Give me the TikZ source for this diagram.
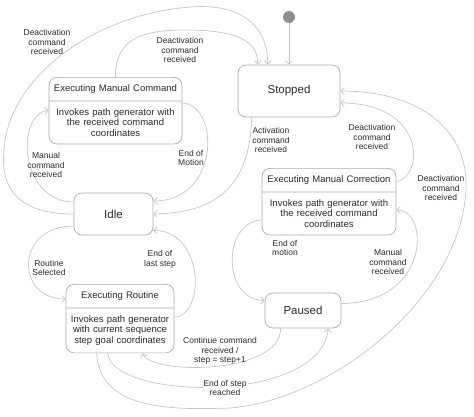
\documentclass[tikz,border=0pt]{standalone}
\usepackage{fontspec}
\setmainfont{Liberation Sans}
\usetikzlibrary{arrows.meta,shapes.multipart}
\definecolor{linegray}{HTML}{C4C4C4}
\definecolor{boxgray}{HTML}{ABABAB}
\definecolor{txtgray}{HTML}{2A2A2A}
\definecolor{dotgray}{HTML}{8E8E8E}
\tikzset{
  state/.style={draw=boxgray, line width=0.7pt, rounded corners=8, text=txtgray,
    font=\fontsize{11.5}{13}\selectfont},
  activity/.style={rectangle split, rectangle split parts=2, draw=boxgray,
    line width=0.7pt, rounded corners=8, text=txtgray, align=center,
    font=\fontsize{9.5}{10.7}\selectfont, inner xsep=4, inner ysep=7, anchor=north},
  trans/.style={draw=linegray, line width=0.7pt, -{Straight Barb[length=3.5pt,width=7pt]}},
  lbl/.style={text=txtgray, font=\fontsize{8.5}{9.6}\selectfont, align=center, inner sep=1pt},
}
\begin{document}
\begin{tikzpicture}[x=1pt,y=-1pt]
\useasboundingbox (0,0) rectangle (474,416);
% states
\node[circle, fill=dotgray, minimum size=12, inner sep=0] (init) at (289,17) {};
\node[state, minimum width=102, minimum height=52] (stopped) at (289,91) {Stopped};
\node[state, minimum width=79, minimum height=42] (idle) at (113.5,214) {Idle};
\node[state, minimum width=76, minimum height=35] (paused) at (303,310.5) {Paused};
\node[activity, text width=125] (emc) at (115.5,77) {Executing Manual Command
  \nodepart{two} Invokes path generator with\\ the received command\\ coordinates};
\node[activity, text width=126] (corr) at (329,168) {Executing Manual Correction
  \nodepart{two} Invokes path generator with\\ the received command\\ coordinates};
\node[activity, text width=100] (routine) at (120,284) {Executing Routine
  \nodepart{two} Invokes path generator\\ with current sequence\\ step goal coordinates};
% transitions
\draw[trans] (init) -- (stopped);
\draw[trans] (idle.west) .. controls (20,214) and (0,190) .. (4,150)
  .. controls (8,80) and (90,15) .. (190,7)
  .. controls (240,3) and (268,25) .. ([xshift=30]stopped.north west)
  node[lbl] (l-deact-idle) at (47,42) {Deactivation\\command\\received};
\draw[trans] (emc.north) .. controls (115,40) and (140,30) .. (185,30)
  .. controls (235,30) and (258,40) .. ([xshift=20]stopped.north west)
  node[lbl] (l-deact-emc) at (180,50) {Deactivation\\command\\received};
\draw[trans] ([xshift=14]stopped.south west) .. controls (250,200) and (200,213) .. (idle.east)
  node[lbl] (l-act) at (271,140) {Activation\\command\\received};
\draw[trans] ([yshift=-26]emc.north east) .. controls (220,105) and (220,201) .. ([yshift=13]idle.east)
  node[lbl] (l-endmot-emc) at (191,158) {End of\\Motion};
\draw[trans] ([yshift=12]idle.west) .. controls (20,202) and (15,115) .. ([yshift=-33]emc.north west)
  node[lbl] (l-man-emc) at (46,165) {Manual\\command\\received};
\draw[trans] ([yshift=-12]idle.west) .. controls (15,226) and (15,299) .. ([yshift=-15]routine.north west)
  node[lbl] (l-routine) at (49,268) {Routine\\Selected};
\draw[trans] ([yshift=-33]routine.north east) .. controls (205,317) and (205,231) .. ([yshift=5]idle.south east)
  node[lbl] (l-last) at (160,259) {End of\\last step};
\draw[trans] ([yshift=-14]corr.north east) .. controls (425,175) and (425,103) .. ([yshift=-12]stopped.east)
  node[lbl] (l-deact-corr) at (372,137) {Deactivation\\command\\received};
\draw[trans] ([xshift=31]routine.south west) .. controls (100,410) and (170,410) .. (230,408)
  .. controls (330,400) and (460,300) .. (466,190)
  .. controls (469,130) and (420,91) .. (stopped.east)
  node[lbl] (l-deact-routine) at (441,188) {Deactivation\\command\\received};
\draw[trans] ([xshift=42]routine.south west) .. controls (112,400) and (320,405) .. ([xshift=-13]paused.south east)
  node[lbl, fill=white] (l-endstep) at (225,388) {End of step\\reached};
\draw[trans] ([xshift=16]paused.south west) .. controls (281,375) and (150,375) .. ([xshift=77]routine.south west)
  node[lbl] (l-continue) at (220,351) {Continue command\\received /\\step = step+1};
\draw[trans] ([yshift=-52]corr.north west) .. controls (222,222) and (222,300) .. ([yshift=10]paused.west)
  node[lbl] (l-endmot-corr) at (285,248) {End of\\motion};
\draw[trans] ([yshift=7]paused.east) .. controls (430,303) and (430,210) .. ([yshift=-42]corr.north east)
  node[lbl] (l-man-corr) at (388,262) {Manual\\command\\received};
\end{tikzpicture}
\end{document}
